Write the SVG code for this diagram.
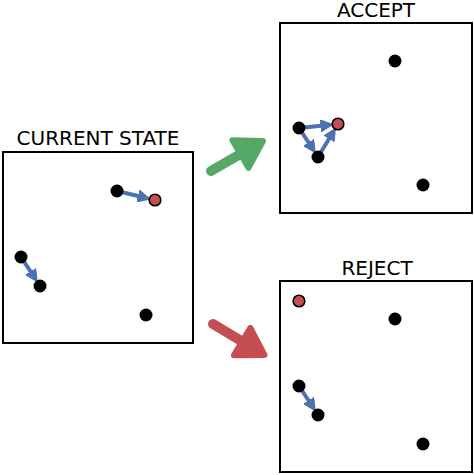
<svg xmlns="http://www.w3.org/2000/svg" width="474" height="475" viewBox="0 0 474 475">
<style>
.title{font-family:"DejaVu Sans",sans-serif;font-size:20px;fill:#000;text-anchor:middle}
.box{fill:#fff;stroke:#000;stroke-width:2}
.dot{fill:#000}
.red{fill:#c44e52;stroke:#000;stroke-width:1.6}
.mv{stroke:#4c72b0;stroke-width:4;fill:none;marker-end:url(#ah)}
</style>
<defs>
<marker id="ah" markerUnits="userSpaceOnUse" markerWidth="12" markerHeight="12" refX="4.5" refY="5" orient="auto" viewBox="0 0 10 10">
<path d="M0,0 L10,5 L0,10 z" fill="#4c72b0" stroke="#4c72b0" stroke-linejoin="round" stroke-width="1"/>
</marker>
</defs>
<rect width="474" height="475" fill="#fff"/>
<g id="current">
<text class="title" x="98" y="145">CURRENT STATE</text>
<rect class="box" x="3" y="152" width="190" height="191"/>
</g>
<g id="accept">
<text class="title" x="376" y="17">ACCEPT</text>
<rect class="box" x="280" y="23" width="192" height="190"/>
</g>
<g id="reject">
<text class="title" x="377" y="275">REJECT</text>
<rect class="box" x="280" y="281" width="192" height="191"/>
</g>
<g id="connectors">
<g id="big-accept" fill="#55a868" stroke="#55a868" stroke-linejoin="round" stroke-linecap="round" transform="translate(211,171) rotate(-30)">
<line x1="0" y1="0" x2="36" y2="0" stroke-width="10"/>
<polygon points="34,-16 60,0 34,16" stroke-width="6"/>
</g>
<g id="big-reject" fill="#c44e52" stroke="#c44e52" stroke-linejoin="round" stroke-linecap="round" transform="translate(213,324) rotate(31)">
<line x1="0" y1="0" x2="36" y2="0" stroke-width="10"/>
<polygon points="34,-16 60,0 34,16" stroke-width="6"/>
</g>
<line class="mv" x1="117" y1="191" x2="143.3" y2="197.3"/>
<line class="mv" x1="21" y1="257" x2="33.5" y2="276"/>
<line class="mv" x1="299" y1="128" x2="326" y2="125.2"/>
<line class="mv" x1="299" y1="128" x2="311.5" y2="147"/>
<line class="mv" x1="318" y1="157" x2="331.8" y2="134.3"/>
<line class="mv" x1="299" y1="386" x2="311.5" y2="405"/>
</g>
<g id="dots-current">
<circle class="dot" cx="117" cy="191" r="6.5"/>
<circle class="red" cx="155" cy="200" r="5.8"/>
<circle class="dot" cx="21" cy="257" r="6.5"/>
<circle class="dot" cx="40" cy="286" r="6.5"/>
<circle class="dot" cx="146" cy="315" r="6.5"/>
</g>
<g id="dots-accept">
<circle class="dot" cx="395" cy="61" r="6.5"/>
<circle class="dot" cx="299" cy="128" r="6.5"/>
<circle class="red" cx="338" cy="124" r="5.8"/>
<circle class="dot" cx="318" cy="157" r="6.5"/>
<circle class="dot" cx="423" cy="185" r="6.5"/>
</g>
<g id="dots-reject">
<circle class="red" cx="299" cy="301" r="5.8"/>
<circle class="dot" cx="395" cy="319" r="6.5"/>
<circle class="dot" cx="299" cy="386" r="6.5"/>
<circle class="dot" cx="318" cy="415" r="6.5"/>
<circle class="dot" cx="423" cy="444" r="6.5"/>
</g>
</svg>
